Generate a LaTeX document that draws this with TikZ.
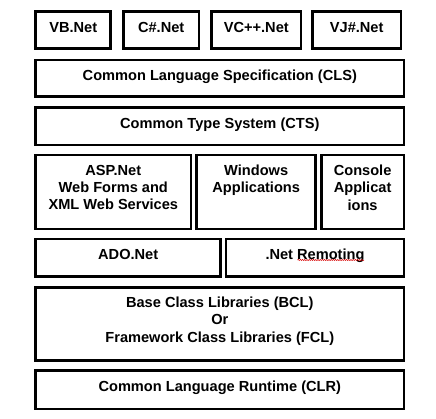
\documentclass[tikz,border=0pt]{standalone}
\usepackage{fontspec}
\setmainfont{Liberation Sans}
\usetikzlibrary{decorations.pathmorphing}
\begin{document}
\begin{tikzpicture}[x=1pt,y=-1pt,
  layer/.style={draw=black,line width=2.6pt,fill=white},
  lbl/.style={anchor=north,inner sep=0pt,align=center,font=\bfseries\fontsize{14.6}{17.2}\selectfont},
  spell/.style={draw=red!85!black,line width=0.5pt,decorate,decoration={snake,amplitude=0.6pt,segment length=2.2pt}}]
\useasboundingbox (0,0) rectangle (436,418);
% boxes
\draw[layer] (35.7,11.7) rectangle (110.7,48.3);
\draw[layer] (123.3,11.7) rectangle (199,48.3);
\draw[layer] (211.7,11.7) rectangle (301,48.3);
\draw[layer] (312.3,11.7) rectangle (401,48.3);
\draw[layer] (35.7,60) rectangle (404,96.7);
\draw[layer] (35.7,107.3) rectangle (404,145);
\draw[layer] (35.7,155) rectangle (191,229);
\draw[layer] (196.7,155) rectangle (315.7,229);
\draw[layer] (321.3,155) rectangle (404,229);
\draw[layer] (35.7,239) rectangle (220.7,276.7);
\draw[layer] (226,239) rectangle (404,276.7);
\draw[layer] (35.7,287.3) rectangle (404,360.7);
\draw[layer] (35.7,370.7) rectangle (404,409);
% labels
\node[lbl] (vb) at (73.2,22.2) {VB.Net};
\node[lbl] (cs) at (161.2,22.2) {C\#.Net};
\node[lbl] (vc) at (256.3,22.2) {VC++.Net};
\node[lbl] (vj) at (356.7,22.2) {VJ\#.Net};
\node[lbl] (cls) at (219.8,70) {Common Language Specification (CLS)};
\node[lbl] (cts) at (219.8,117.3) {Common Type System (CTS)};
\node[lbl] (asp) at (113.3,165) {ASP.Net\\Web Forms and\\XML Web Services};
\node[lbl] (win) at (256.2,165) {Windows\\Applications};
\node[lbl] (con) at (362.6,165) {Console\\Applicat\\ions};
\node[lbl] (ado) at (128.2,249) {ADO.Net};
\node[lbl] (rem) at (315,249) {.Net Remoting};
\node[lbl] (bcl) at (219.8,297) {Base Class Libraries (BCL)\\Or\\Framework Class Libraries (FCL)};
\node[lbl] (clr) at (219.8,380.5) {Common Language Runtime (CLR)};
\coordinate (sq1) at (297.5,260);
\coordinate (sq2) at (364,260);
\path[spell] (sq1) -- (sq2);
\end{tikzpicture}
\end{document}
